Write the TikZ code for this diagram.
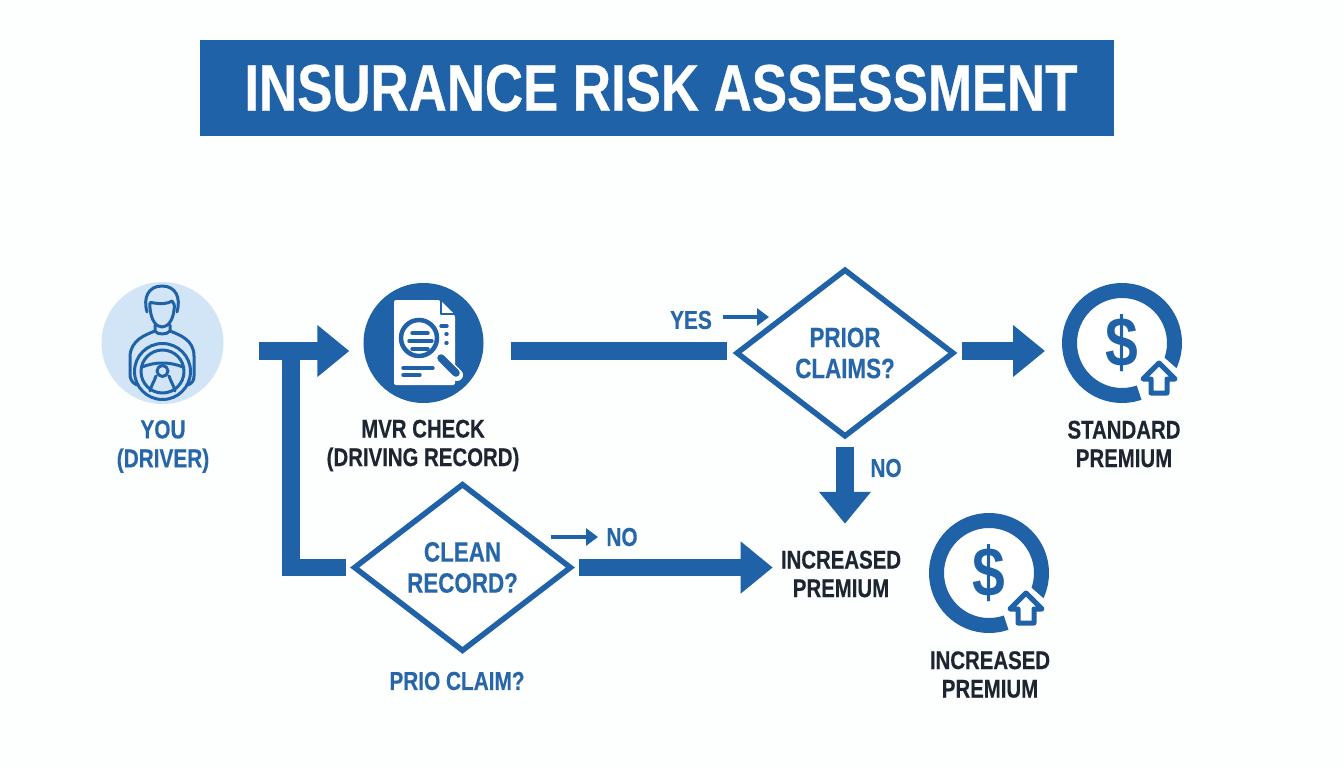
\documentclass[tikz,border=0pt]{standalone}
\usepackage{fontspec}
\usetikzlibrary{shapes.geometric,arrows.meta,calc}
\newfontfamily\lab[FakeStretch=0.80,BoldFeatures={FakeBold=0.35}]{Liberation Sans}
\newfontfamily\ttl[FakeStretch=0.80,BoldFeatures={FakeBold=0.5}]{Liberation Sans}
\newfontfamily\dollar[FakeStretch=0.84]{Liberation Sans}
\definecolor{brand}{HTML}{1F62A8}
\definecolor{brandtext}{HTML}{2767A9}
\definecolor{pale}{HTML}{D2E5F6}
\definecolor{inkdark}{HTML}{1D2530}
\definecolor{paper}{HTML}{FDFEFE}
\tikzset{
  x=1pt,y=-1pt,
  bigarrow/.style={draw=brand,line width=17.5pt,-{Triangle[length=32pt,width=50pt]}},
  bigbar/.style={draw=brand,line width=17.5pt,line join=miter},
  tinyarrow/.style={draw=brand,line width=4pt,-{Triangle[length=12pt,width=17pt]}},
  decision/.style={diamond,draw=brand,line width=5.5pt,fill=white,minimum width=218pt,minimum height=168pt,inner sep=0pt,shape aspect=1.3,align=center,text=brandtext,font=\lab\bfseries\fontsize{28}{31}\selectfont},
  bluetext/.style={text=brandtext,align=center,inner sep=0pt,font=\lab\bfseries\fontsize{26}{29}\selectfont},
  darktext/.style={text=inkdark,align=center,inner sep=0pt,font=\lab\bfseries\fontsize{25.5}{28.5}\selectfont},
  tag/.style={text=brandtext,inner sep=0pt,font=\lab\bfseries\fontsize{26}{30}\selectfont},
  coin/.style={circle,draw=brand,line width=15pt,fill=white,minimum size=105pt,inner sep=0pt,text=brand,font=\dollar\bfseries\fontsize{70}{70}\selectfont},
  iconline/.style={draw=brand,line width=3pt,line cap=round,line join=round},
  docline/.style={draw=brand,line width=3.4pt,line cap=round}
}
\newcommand{\coinarrow}[1]{%
  \begin{scope}[shift={(#1.center)}]
    \fill[white] (37,10) -- (62,32) -- (50,58) -- (20,58) -- (12,34) -- cycle;
    \draw[brand,line width=5pt,line join=round,fill=paper] (37,20) -- (53,36) -- (45,36) -- (45,50) -- (29,50) -- (29,36) -- (21,36) -- cycle;
  \end{scope}}
\begin{document}
\begin{tikzpicture}
\useasboundingbox (0,0) rectangle (1344,768);
\fill[paper] (0,0) rectangle (1344,768);

\node[fill=brand,minimum width=914pt,minimum height=96pt,inner sep=0pt,text=white,font=\ttl\bfseries\fontsize{66}{70}\selectfont] (title) at (657,88) {\hspace{8pt}INSURANCE RISK ASSESSMENT};

% driver
\node[circle,fill=pale,minimum size=122pt,inner sep=0pt] (driver) at (162.5,343) {};
\node[bluetext] (youlabel) at (163,446.5) {YOU\\(DRIVER)};
\begin{scope}[iconline]
  % hair
  \draw (147,312) .. controls (143,298) and (148,286) .. (162,286) .. controls (176,286) and (181,298) .. (177,312);
  % face
  \draw (150,308) .. controls (149,300) and (151,303) .. (154,303) .. controls (160,304) and (168,304) .. (172,301) .. controls (174,303) and (175,305) .. (174,310) .. controls (173,320) and (168,327) .. (162,327) .. controls (156,327) and (151,320) .. (150,308);
  % neck
  \draw (155,325) -- (155,331) .. controls (157,335) and (167,335) .. (170,331) -- (170,325);
  % shoulders
  \draw (155,331) .. controls (145,335) and (131,340) .. (130,356) -- (130,376) .. controls (131,381) and (133,383) .. (137,385);
  \draw (170,331) .. controls (180,335) and (194,340) .. (194,356) -- (194,376) .. controls (194,381) and (192,383) .. (188,385);
  % wheel
  \draw (162.5,371.5) circle (28);
  \draw (162.5,371.5) circle (21.5);
  \draw (162.5,371) circle (5.5);
  \draw (142,367) .. controls (150,364) and (156,363) .. (162.5,363) .. controls (169,363) and (175,364) .. (183,367);
  \draw (156,376) .. controls (154,382) and (151,386) .. (150,391);
  \draw (169,376) .. controls (171,382) and (174,386) .. (175,391);
\end{scope}

% mvr
\node[circle,fill=brand,minimum size=120pt,inner sep=0pt] (mvr) at (423.5,343) {};
\node[darktext] (mvrlabel) at (423,445.5) {MVR CHECK\\(DRIVING RECORD)};
\fill[white,rounded corners=2pt] (394,300) -- (440,300) -- (455,315) -- (455,385) -- (394,385) -- cycle;
\draw[brand,line width=1.5pt,line join=round] (441,299) -- (441,314) -- (456,314);
\draw[docline] (441,326) -- (447,326);
\draw[docline] (446,334) -- (447,334);
\draw[docline] (446,343) -- (447,343);
\draw[docline] (403,368) -- (433,368);
\draw[docline] (403,375) -- (420,375);
\draw[white,line width=12pt,line cap=round] (438,356) -- (457,375);
\draw[brand,line width=7.5pt,line cap=round] (441,358) -- (456,373);
\draw[brand,line width=4.5pt,fill=white] (419,338) circle (18);
\draw[docline] (412,333) -- (428,333);
\draw[docline] (409,341) -- (432,341);
\draw[docline] (412,349) -- (428,349);

% decisions
\node[decision] (prior) at (845,353) {PRIOR\\CLAIMS?};
\node[decision] (clean) at (462.5,567.5) {CLEAN\\RECORD?};
\node[bluetext] (priolabel) at (457,681) {PRIO CLAIM?};

% coins
\node[coin] (std) at (1122,343) {\$};
\coinarrow{std}
\node[darktext] (stdlabel) at (1124,444) {STANDARD\\PREMIUM};
\node[coin] (inc) at (989,573) {\$};
\coinarrow{inc}
\node[darktext] (inclabel) at (990,674.5) {INCREASED\\PREMIUM};
\node[darktext] (incr) at (841,574) {INCREASED\\PREMIUM};

% tags
\node[tag] (yes) at (691,320) {YES};
\node[tag] (no1) at (886,468) {NO};
\node[tag] (no2) at (622,537) {NO};
\coordinate (yesa) at (723,317);
\coordinate (yesb) at (769,317);
\coordinate (noa) at (551,537);
\coordinate (nob) at (598,537);
\coordinate (tee) at (291,351);
\draw[tinyarrow] (yesa) -- (yesb);
\draw[tinyarrow] (noa) -- (nob);

% connectors
\draw[bigarrow] ([shift={(35,8)}]driver.east) -- ([shift={(-14,8)}]mvr.west);
\draw[bigbar] ([shift={(-5,0)}]clean.west) -| (tee);
\draw[bigbar] ([shift={(27,8)}]mvr.east) -- ([shift={(-6,-2)}]prior.west);
\draw[bigarrow] ([shift={(5,-2)}]prior.east) -- ([shift={(-17,8)}]std.west);
\draw[bigarrow] ([shift={(0,7)}]prior.south) -- ([shift={(0,84)}]prior.south);
\draw[bigarrow] ([shift={(5,0)}]clean.east) -- ([shift={(-8,-6.5)}]incr.west);
\end{tikzpicture}
\end{document}
